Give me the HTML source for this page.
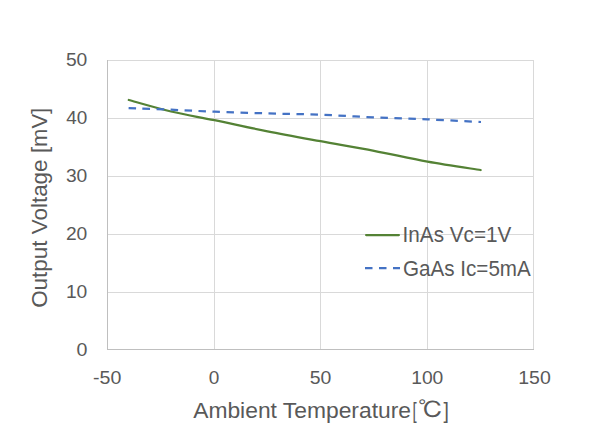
<!DOCTYPE html>
<html><head><meta charset="utf-8">
<style>
html,body{margin:0;padding:0;background:#fff;width:600px;height:441px;overflow:hidden}
svg{display:block}
text{font-family:"Liberation Sans","Noto Sans CJK JP",sans-serif;fill:#595959}
</style></head>
<body>
<svg width="600" height="441" viewBox="0 0 600 441">
<rect width="600" height="441" fill="#fff"/>
<g stroke="#D9D9D9" stroke-width="1" fill="none" shape-rendering="crispEdges">
<path d="M107 60.5H534M107 118.5H534M107 176.5H534M107 234.5H534M107 292.5H534"/>
<path d="M214.5 60V349M320.5 60V349M427.5 60V349M533.5 60V349"/>
</g>
<g stroke="#BFBFBF" stroke-width="1" fill="none" shape-rendering="crispEdges">
<path d="M107.5 60V350M107 349.5H534"/>
</g>
<text x="65.93" y="66" font-size="18" textLength="21.40" lengthAdjust="spacingAndGlyphs">50</text>
<text x="66.30" y="124" font-size="18" textLength="21.03" lengthAdjust="spacingAndGlyphs">40</text>
<text x="65.93" y="182" font-size="18" textLength="21.40" lengthAdjust="spacingAndGlyphs">30</text>
<text x="65.93" y="240" font-size="18" textLength="21.40" lengthAdjust="spacingAndGlyphs">20</text>
<text x="65.93" y="298" font-size="18" textLength="21.40" lengthAdjust="spacingAndGlyphs">10</text>
<text x="76.41" y="356" font-size="18" textLength="10.91" lengthAdjust="spacingAndGlyphs">0</text>
<text x="93.01" y="384" font-size="18" textLength="28.31" lengthAdjust="spacingAndGlyphs">-50</text>
<text x="208.74" y="384" font-size="18" textLength="10.57" lengthAdjust="spacingAndGlyphs">0</text>
<text x="309.72" y="384" font-size="18" textLength="21.61" lengthAdjust="spacingAndGlyphs">50</text>
<text x="411.23" y="384" font-size="18" textLength="32.12" lengthAdjust="spacingAndGlyphs">100</text>
<text x="518.22" y="384" font-size="18" textLength="32.53" lengthAdjust="spacingAndGlyphs">150</text>
<text x="193.20" y="418" font-size="21.4" textLength="217.78" lengthAdjust="spacingAndGlyphs">Ambient Temperature</text>
<text x="412.60" y="418" font-size="21.4" textLength="4.17" lengthAdjust="spacingAndGlyphs">[</text>
<text transform="translate(417.9 418.1) scale(1.138 1)" font-size="22.5" style="font-family:'IPAGothic','Noto Sans CJK JP',sans-serif">℃</text>
<text x="443.40" y="418" font-size="21.4" textLength="5.36" lengthAdjust="spacingAndGlyphs">]</text>
<text x="402.56" y="242" font-size="21.4" textLength="108.80" lengthAdjust="spacingAndGlyphs">InAs Vc=1V</text>
<text x="403.04" y="276" font-size="21.4" textLength="127.74" lengthAdjust="spacingAndGlyphs">GaAs Ic=5mA</text>
<text transform="translate(47 307.85) rotate(-90)" x="0" y="0" font-size="21.4" textLength="148.41" lengthAdjust="spacingAndGlyphs">Output Voltage</text>
<text transform="translate(47 153.03) rotate(-90)" x="0" y="0" font-size="21.4" textLength="45.24" lengthAdjust="spacingAndGlyphs">[mV]</text>
<path fill="none" stroke="#548235" stroke-width="2.25" stroke-linejoin="round" stroke-linecap="round" d="M128.80 100.00 C135.85 101.92 156.82 108.13 171.10 111.50 C185.38 114.87 198.43 116.90 214.50 120.20 C230.57 123.50 249.83 127.80 267.50 131.30 C285.17 134.80 302.75 137.95 320.50 141.20 C338.25 144.45 356.17 147.38 374.00 150.80 C391.83 154.22 409.73 158.50 427.50 161.70 C445.27 164.90 471.75 168.62 480.60 170.00"/>
<path fill="none" stroke="#4472C4" stroke-width="2.25" stroke-dasharray="7.5 6.5" stroke-linejoin="round" d="M128.60 108.10 C135.68 108.37 156.78 109.10 171.10 109.70 C185.42 110.30 198.43 111.08 214.50 111.70 C230.57 112.32 249.83 112.90 267.50 113.40 C285.17 113.90 302.75 114.03 320.50 114.70 C338.25 115.37 356.17 116.62 374.00 117.40 C391.83 118.18 409.67 118.63 427.50 119.40 C445.33 120.17 472.08 121.57 481.00 122.00"/>
<line x1="366.1" y1="235" x2="398.9" y2="235" stroke="#548235" stroke-width="2.25" stroke-linecap="round"/>
<line x1="365" y1="268" x2="400" y2="268" stroke="#4472C4" stroke-width="2.25" stroke-dasharray="7.5 6.5"/>
</svg>
</body></html>
